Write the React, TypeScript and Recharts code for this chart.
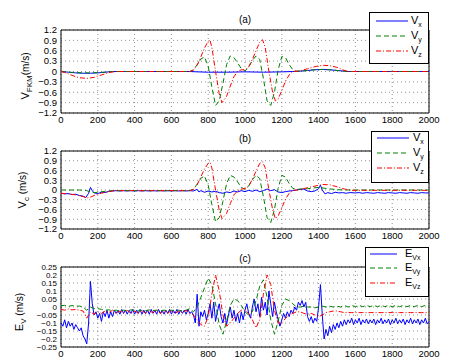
import React from 'react';
import { LineChart, Line, XAxis, YAxis, CartesianGrid, ReferenceArea } from 'recharts';

const FONT = '"Liberation Sans", Arial, Helvetica, sans-serif';

type Pt = [number, number];

const xTicks = [0, 200, 400, 600, 800, 1000, 1200, 1400, 1600, 1800, 2000];
const vTicks = [-1.2, -0.9, -0.6, -0.3, 0, 0.3, 0.6, 0.9, 1.2];
const eTicks = [-0.25, -0.2, -0.15, -0.1, -0.05, 0, 0.05, 0.1, 0.15, 0.2, 0.25];

// ---------- Panel (a): V_FKM ----------
const aVx: Pt[] = [[0,0],[40,-0.02],[80,-0.04],[120,-0.05],[160,-0.05],[200,-0.04],[240,-0.02],[280,0],[700,0],[740,-0.01],[800,-0.02],[900,-0.02],[1000,-0.01],[1100,-0.02],[1200,-0.01],[1260,0],[1300,0.01],[1340,0.03],[1380,0.05],[1420,0.06],[1460,0.05],[1500,0.03],[1540,0.01],[1560,0],[2000,0]];
const aVy: Pt[] = [[0,0],[40,-0.02],[80,-0.03],[120,-0.04],[160,-0.04],[200,-0.03],[240,-0.02],[280,0],[700,0],[720,0.05],[740,0.2],[760,0.36],[780,0.42],[800,0.15],[820,-0.45],[840,-0.98],[860,-0.85],[880,-0.35],[900,0.2],[920,0.45],[940,0.4],[960,0.25],[980,0.08],[1000,0.02],[1020,0.12],[1040,0.32],[1060,0.45],[1080,0.35],[1100,-0.2],[1120,-0.85],[1140,-0.98],[1160,-0.6],[1180,0.05],[1200,0.43],[1220,0.4],[1240,0.2],[1260,0.05],[1280,0],[1300,0.01],[1340,0.03],[1380,0.05],[1420,0.06],[1460,0.05],[1500,0.03],[1540,0.01],[1560,0],[2000,0]];
const aVz: Pt[] = [[0,0],[20,-0.03],[40,-0.07],[60,-0.11],[80,-0.15],[100,-0.18],[140,-0.2],[180,-0.17],[220,-0.1],[260,-0.03],[300,0],[700,0],[720,0.04],[740,0.18],[760,0.42],[780,0.68],[800,0.88],[810,0.9],[820,0.7],[840,0],[860,-0.65],[875,-0.9],[900,-0.72],[920,-0.42],[940,-0.15],[960,0],[980,0.05],[1000,0.05],[1020,0.14],[1040,0.35],[1060,0.6],[1080,0.85],[1095,0.92],[1110,0.7],[1130,0],[1150,-0.6],[1165,-0.85],[1180,-0.8],[1200,-0.55],[1220,-0.28],[1240,-0.1],[1260,0],[1300,0.02],[1340,0.08],[1380,0.14],[1420,0.18],[1460,0.17],[1500,0.12],[1530,0.05],[1560,0],[2000,0]];

// ---------- Panel (b): V_c ----------
const bVx: Pt[] = [[0,-0.1],[20,-0.12],[40,-0.11],[60,-0.14],[80,-0.13],[100,-0.17],[120,-0.19],[135,-0.23],[150,-0.1],[160,0.08],[170,-0.02],[180,-0.09],[200,-0.11],[220,-0.07],[240,-0.08],[260,-0.04],[280,-0.03],[300,-0.02],[320,-0.03],[340,-0.02],[360,-0.03],[380,-0.02],[400,-0.03],[420,-0.02],[440,-0.03],[460,-0.02],[480,-0.03],[500,-0.02],[520,-0.03],[540,-0.02],[560,-0.03],[580,-0.02],[600,-0.03],[620,-0.02],[640,-0.03],[660,-0.02],[680,-0.03],[700,-0.02],[720,-0.03],[740,0.02],[750,-0.06],[760,-0.02],[780,-0.07],[800,-0.03],[820,-0.06],[840,-0.04],[860,-0.08],[880,-0.1],[900,-0.06],[920,-0.08],[940,-0.03],[960,-0.06],[980,-0.02],[1000,-0.05],[1020,-0.01],[1040,-0.04],[1060,0],[1080,-0.05],[1100,-0.02],[1120,0.03],[1140,-0.02],[1160,0.01],[1180,-0.06],[1200,-0.08],[1220,-0.05],[1240,-0.03],[1260,-0.02],[1280,0],[1300,0.02],[1320,0.03],[1340,-0.03],[1360,-0.05],[1380,-0.03],[1400,0.04],[1410,0.15],[1420,0],[1435,-0.12],[1450,-0.08],[1470,-0.11],[1490,-0.07],[1510,-0.09],[1530,-0.08],[1550,-0.1],[1570,-0.08],[1600,-0.09],[1620,-0.08],[1640,-0.1],[1660,-0.08],[1680,-0.09],[1700,-0.1],[1720,-0.08],[1740,-0.09],[1760,-0.1],[1780,-0.08],[1800,-0.09],[1820,-0.1],[1840,-0.08],[1860,-0.09],[1880,-0.1],[1900,-0.08],[1920,-0.09],[1940,-0.1],[1960,-0.08],[1980,-0.09],[2000,-0.09]];
const bVy: Pt[] = [[0,0],[100,0],[140,-0.02],[160,-0.06],[180,-0.08],[200,-0.07],[240,-0.04],[280,-0.02],[700,-0.02],[720,0.03],[740,0.18],[760,0.36],[780,0.43],[800,0.15],[820,-0.45],[840,-0.98],[860,-0.85],[880,-0.35],[900,0.2],[920,0.45],[940,0.4],[960,0.25],[980,0.08],[1000,0.02],[1020,0.12],[1040,0.32],[1060,0.45],[1080,0.35],[1100,-0.2],[1120,-0.85],[1140,-1.0],[1160,-0.6],[1180,0.05],[1200,0.45],[1220,0.4],[1240,0.2],[1260,0.05],[1280,0.02],[1340,0.04],[1400,0.08],[1450,0.04],[1500,0.01],[1550,0],[2000,0]];
const bVz: Pt[] = [[0,-0.1],[40,-0.12],[80,-0.15],[120,-0.2],[140,-0.25],[160,-0.22],[180,-0.17],[200,-0.13],[220,-0.1],[240,-0.07],[260,-0.05],[280,-0.03],[300,-0.02],[700,-0.02],[720,0.02],[740,0.16],[760,0.4],[780,0.65],[800,0.82],[810,0.85],[820,0.68],[840,0],[860,-0.62],[875,-0.88],[900,-0.72],[920,-0.42],[940,-0.15],[960,-0.02],[980,0.03],[1000,0.04],[1020,0.12],[1040,0.33],[1060,0.58],[1080,0.82],[1095,0.87],[1110,0.68],[1130,0],[1150,-0.6],[1165,-0.88],[1180,-0.8],[1200,-0.55],[1220,-0.28],[1240,-0.1],[1260,-0.02],[1300,0.02],[1340,0.07],[1380,0.12],[1420,0.17],[1460,0.16],[1500,0.1],[1540,0.03],[1580,-0.01],[2000,-0.01]];

// ---------- Panel (c): E_V ----------
// E_Vx sampled every 10
const cStepX = 10;
const cVx = [
  -0.1, -0.12, -0.08, -0.13, -0.09, -0.12, -0.1, -0.14, -0.11, -0.13,
  -0.15, -0.13, -0.18, -0.2, -0.23, -0.1, 0.16, 0.02, -0.05, -0.03,
  -0.07, -0.04, -0.09, -0.03, -0.06, -0.02, -0.07, -0.03, -0.06, -0.02,
  -0.04, -0.02, -0.045, -0.015, -0.04, -0.02, -0.045, -0.02, -0.04, -0.015,
  -0.045, -0.02, -0.04, -0.015, -0.045, -0.02, -0.04, -0.02, -0.045, -0.015,
  -0.04, -0.02, -0.045, -0.015, -0.04, -0.02, -0.045, -0.02, -0.04, -0.015,
  -0.045, -0.02, -0.04, -0.015, -0.045, -0.02, -0.04, -0.02, -0.045, -0.015,
  -0.04, -0.03, -0.05, -0.1, 0.08, -0.12, -0.03, -0.06, -0.02, -0.08,
  -0.04, 0.02, -0.07, 0.03, -0.09, -0.03, 0.02, -0.06, -0.1, -0.04,
  -0.11, -0.05, 0.0, -0.07, -0.02, -0.09, -0.04, -0.1, -0.03, -0.08,
  -0.02, 0.02, -0.04, -0.07, 0.0, 0.05, -0.03, 0.02, -0.06, 0.06,
  -0.02, 0.03, -0.05, 0.1, 0.02, -0.06, 0.03, -0.03, -0.08, -0.12,
  -0.08, -0.04, -0.07, -0.03, -0.06, -0.02, -0.04, 0.0, -0.02, 0.03,
  0.01, 0.04, 0.0, 0.03, -0.06, -0.09, -0.06, -0.1, -0.07, -0.09,
  0.0, 0.14, -0.05, -0.2, -0.14, -0.18, -0.12, -0.16, -0.11, -0.14,
  -0.1, -0.13, -0.09, -0.12, -0.08, -0.11, -0.08, -0.1, -0.07, -0.11,
  -0.08, -0.1, -0.07, -0.11, -0.08, -0.1, -0.075, -0.105, -0.08, -0.1,
  -0.075, -0.11, -0.08, -0.1, -0.07, -0.105, -0.08, -0.1, -0.075, -0.11,
  -0.08, -0.1, -0.07, -0.105, -0.08, -0.1, -0.075, -0.11, -0.08, -0.1,
  -0.07, -0.105, -0.08, -0.1, -0.075, -0.11, -0.08, -0.1, -0.07, -0.105,
  -0.09,
];
// E_Vy and E_Vz sampled every 20
const cStep = 20;
const cVy = [
  0.008, 0.01, 0.004, 0.009, 0.005, 0.006, 0.0, -0.02, 0.0, -0.01,
  -0.01, -0.015, -0.02, -0.018, -0.022, -0.02, -0.025, -0.02, -0.022, -0.018,
  -0.02, -0.024, -0.02, -0.022, -0.018, -0.022, -0.02, -0.024, -0.02, -0.022,
  -0.02, -0.022, -0.02, -0.024, -0.02, -0.01, -0.03, 0.0, 0.06, 0.12,
  0.18, 0.14, 0.02, -0.11, -0.17, -0.09, 0.01, 0.05, 0.04, 0.01,
  -0.03, -0.05, -0.03, 0.04, 0.13, 0.17, 0.06, -0.08, -0.17, -0.09,
  0.01, 0.05, 0.04, 0.02, 0.0, 0.0, 0.005, 0.0, 0.0, -0.005,
  0.0, 0.005, 0.0, 0.005, 0.0, 0.005, 0.0, 0.01, 0.0, 0.01,
  0.002, 0.01, 0.002, 0.01, 0.002, 0.01, 0.002, 0.01, 0.002, 0.01,
  0.002, 0.01, 0.002, 0.01, 0.002, 0.01, 0.002, 0.01, 0.002, 0.01,
  0.005,
];
const cVz = [
  -0.015, -0.02, -0.012, -0.018, -0.015, -0.02, -0.025, -0.07, -0.03, -0.045,
  -0.03, -0.04, -0.025, -0.035, -0.02, -0.04, -0.025, -0.038, -0.022, -0.04,
  -0.025, -0.038, -0.022, -0.04, -0.025, -0.035, -0.02, -0.04, -0.025, -0.038,
  -0.022, -0.04, -0.025, -0.035, -0.02, -0.04, -0.05, -0.08, -0.11, -0.12,
  -0.06, 0.08, 0.2, 0.1, -0.05, -0.12, -0.1, -0.07, -0.04, -0.02,
  -0.02, -0.04, -0.08, -0.13, -0.08, 0.08, 0.2, 0.14, -0.02, -0.1,
  -0.1, -0.07, -0.05, -0.04, -0.03, -0.03, -0.04, -0.045, -0.04, -0.05,
  -0.06, -0.05, -0.035, -0.03, -0.025, -0.025, -0.03, -0.035, -0.035, -0.035,
  -0.035, -0.035, -0.035, -0.035, -0.035, -0.035, -0.035, -0.035, -0.035, -0.035,
  -0.035, -0.035, -0.035, -0.035, -0.035, -0.035, -0.035, -0.035, -0.035, -0.035,
  -0.035,
];

const toPts = (vals: number[], step: number): Pt[] => vals.map((v, i) => [i * step, v]);

function merge(series: Record<string, Pt[]>) {
  const map = new Map<number, any>();
  Object.entries(series).forEach(([k, pts]) => {
    pts.forEach(([t, v]) => {
      if (!map.has(t)) map.set(t, { t });
      map.get(t)[k] = v;
    });
  });
  return Array.from(map.values()).sort((a, b) => a.t - b.t);
}

const dataA = merge({ x: aVx, y: aVy, z: aVz });
const dataB = merge({ x: bVx, y: bVy, z: bVz });
const dataC = merge({ x: toPts(cVx, cStepX), y: toPts(cVy, cStep), z: toPts(cVz, cStep) });

const BLUE = '#0000ff';
const GREEN = '#008000';
const RED = '#ff0000';
const DASH = '5 3';
const DASHDOT = '5 2 1 2';

const fmt = (v: number) => (v === 0 ? '0' : (v < 0 ? '\u2212' : '') + String(Math.abs(v)));

const xTickStyle = { fontSize: 9.5, fill: '#000', fontFamily: FONT };

type PanelProps = {
  top: number;
  height: number;
  mTop: number;
  mBottom: number;
  xH: number;
  data: any[];
  domain: [number, number];
  yTicks: number[];
  yFont: number;
  title: { main: string; sub: string; rest: string; x: number; cy: number };
};

function Panel({ top, height, mTop, mBottom, xH, data, domain, yTicks, yFont, title }: PanelProps) {
  const yLabel = () => (
    <text
      x={title.x}
      y={title.cy}
      transform={`rotate(-90 ${title.x} ${title.cy})`}
      textAnchor="middle"
      fontFamily={FONT}
      fontSize={11}
      fill="#000"
    >
      {title.main}
      <tspan fontSize={8} dy={3}>{title.sub}</tspan>
      <tspan fontSize={10} dy={-3}>{title.rest}</tspan>
    </text>
  );
  return (
    <div style={{ position: 'absolute', left: 0, top, width: 474, height }}>
      <LineChart width={474} height={height} data={data} margin={{ top: mTop, right: 45, bottom: mBottom, left: 21 }}>
        <CartesianGrid stroke="#777" strokeDasharray="1 3" strokeWidth={0.8} />
        <XAxis
          dataKey="t"
          type="number"
          domain={[0, 2000]}
          ticks={xTicks}
          interval={0}
          tickLine={false}
          axisLine={false}
          tickSize={0}
          tickMargin={3}
          height={xH}
          tick={xTickStyle}
        />
        <YAxis
          type="number"
          domain={domain}
          ticks={yTicks}
          interval={0}
          tickLine={false}
          axisLine={false}
          tickSize={0}
          tickMargin={4}
          width={40}
          tick={{ fontSize: yFont, fill: '#000', fontFamily: FONT }}
          tickFormatter={fmt}
          allowDataOverflow
          label={yLabel}
        />
        <ReferenceArea x1={0} x2={2000} y1={domain[0]} y2={domain[1]} fill="none" fillOpacity={0} stroke="#000" strokeWidth={1} />
        <Line dataKey="x" stroke={BLUE} strokeWidth={1} dot={false} isAnimationActive={false} connectNulls type="linear" />
        <Line dataKey="y" stroke={GREEN} strokeWidth={1} strokeDasharray={DASH} dot={false} isAnimationActive={false} connectNulls type="linear" />
        <Line dataKey="z" stroke={RED} strokeWidth={1} strokeDasharray={DASHDOT} dot={false} isAnimationActive={false} connectNulls type="linear" />
      </LineChart>
    </div>
  );
}

type LegItem = { color: string; dash?: string; main: string; sub: string };

function LegendBox({ left, top, width, height, rows, lineX1, lineX2, textX, items }: {
  left: number; top: number; width: number; height: number; rows: number[]; lineX1: number; lineX2: number; textX: number; items: LegItem[];
}) {
  return (
    <div style={{ position: 'absolute', left, top, width, height, border: '1px solid #000', background: '#fff', boxSizing: 'border-box', fontFamily: FONT }}>
      <svg width={width} height={height} style={{ position: 'absolute', left: -1, top: -1 }}>
        {items.map((it, i) => (
          <line key={i} x1={lineX1} x2={lineX2} y1={rows[i]} y2={rows[i]} stroke={it.color} strokeWidth={1} strokeDasharray={it.dash} />
        ))}
      </svg>
      {items.map((it, i) => (
        <div key={'t' + i} style={{ position: 'absolute', left: textX - 1, top: rows[i] - 8, fontSize: 11, lineHeight: '12px', color: '#000', whiteSpace: 'nowrap' }}>
          {it.main}
          <span style={{ fontSize: 7, position: 'relative', top: 3 }}>{it.sub}</span>
        </div>
      ))}
    </div>
  );
}

function Title({ text, top }: { text: string; top: number }) {
  return (
    <div style={{ position: 'absolute', left: 225, width: 40, top, textAlign: 'center', fontFamily: FONT, fontSize: 10, lineHeight: '12px', color: '#000' }}>
      {text}
    </div>
  );
}

const vItems: LegItem[] = [
  { color: BLUE, main: 'V', sub: 'x' },
  { color: GREEN, dash: DASH, main: 'V', sub: 'y' },
  { color: RED, dash: DASHDOT, main: 'V', sub: 'z' },
];
const eItems: LegItem[] = [
  { color: BLUE, main: 'E', sub: 'Vx' },
  { color: GREEN, dash: DASH, main: 'E', sub: 'Vy' },
  { color: RED, dash: DASHDOT, main: 'E', sub: 'Vz' },
];

export default function App() {
  return (
    <div style={{ position: 'absolute', left: 0, top: 0, width: 474, height: 363, background: '#fff', overflow: 'hidden' }}>
      <Panel top={0} height={135} mTop={30} mBottom={2} xH={20} data={dataA} domain={[-1.2, 1.2]} yTicks={vTicks} yFont={9.5}
        title={{ main: 'V', sub: 'FKM', rest: '(m/s)', x: 29, cy: 76 }} />
      <Panel top={120} height={135} mTop={31} mBottom={6} xH={20} data={dataB} domain={[-1.2, 1.2]} yTicks={vTicks} yFont={9.5}
        title={{ main: 'V', sub: 'c', rest: ' (m/s)', x: 26, cy: 70 }} />
      <Panel top={236} height={127} mTop={31} mBottom={0} xH={16} data={dataC} domain={[-0.25, 0.25]} yTicks={eTicks} yFont={8}
        title={{ main: 'E', sub: 'V', rest: ' (m/s)', x: 23, cy: 76 }} />
      <Title text="(a)" top={14} />
      <Title text="(b)" top={133} />
      <Title text="(c)" top={253} />
      <LegendBox left={369} top={12} width={60} height={52} rows={[9, 24, 39]} lineX1={7} lineX2={39} textX={42} items={vItems} />
      <LegendBox left={371} top={131} width={58} height={52} rows={[7, 22, 37]} lineX1={6} lineX2={38} textX={42} items={vItems} />
      <LegendBox left={365} top={247} width={64} height={50} rows={[7, 21, 36]} lineX1={5} lineX2={32} textX={40} items={eItems} />
    </div>
  );
}
